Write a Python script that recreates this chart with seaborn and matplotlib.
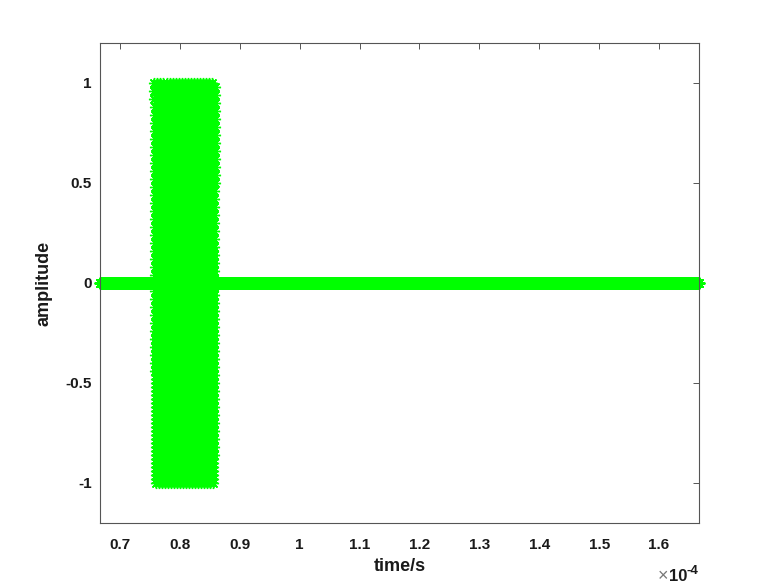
import matplotlib

matplotlib.use("Agg")
import matplotlib.pyplot as plt
import numpy as np
import pandas as pd
import seaborn as sns
from matplotlib.ticker import FixedLocator, FuncFormatter

# record window and pulse window, in seconds
t_first = 0.6667e-4
t_last = 1.6667e-4
pulse_start = 0.7575e-4
pulse_end = 0.8585e-4
sample_step = 5e-9

# amplitude levels of one sweep inside the pulse
sweep_down = [1.00, 0.96, 0.92, 0.88, 0.84, 0.80, 0.76, 0.72, 0.68, 0.64, 0.60, 0.56, 0.52,
              0.48, 0.44, 0.40, 0.36, 0.32, 0.28, 0.24, 0.20, 0.16, 0.12, 0.08, 0.04, 0.00,
              -0.04, -0.08, -0.12, -0.16, -0.20, -0.24, -0.28, -0.32, -0.36, -0.40, -0.44,
              -0.48, -0.52, -0.56, -0.60, -0.64, -0.68, -0.72, -0.76, -0.80, -0.84, -0.88,
              -0.92, -0.96, -1.00]
sweep_up = [-0.98, -0.94, -0.90, -0.86, -0.82, -0.78, -0.74, -0.70, -0.66, -0.62, -0.58,
            -0.54, -0.50, -0.46, -0.42, -0.38, -0.34, -0.30, -0.26, -0.22, -0.18, -0.14,
            -0.10, -0.06, -0.02, 0.02, 0.06, 0.10, 0.14, 0.18, 0.22, 0.26, 0.30, 0.34, 0.38,
            0.42, 0.46, 0.50, 0.54, 0.58, 0.62, 0.66, 0.70, 0.74, 0.78, 0.82, 0.86, 0.90,
            0.94, 0.98]
idle_level = 0.0

x_ticks = [0.7e-4, 0.8e-4, 0.9e-4, 1.0e-4, 1.1e-4, 1.2e-4, 1.3e-4, 1.4e-4, 1.5e-4, 1.6e-4]
y_ticks = [-1, -0.5, 0, 0.5, 1]
x_scale = 1e-4

# build the sampled record
t = np.arange(t_first, t_last + sample_step / 2, sample_step)
amp = np.full(t.size, idle_level)
in_pulse = (t >= pulse_start) & (t <= pulse_end)
amp[in_pulse] = np.resize(np.array(sweep_down + sweep_up), in_pulse.sum())
signal = pd.DataFrame({"time": t, "amplitude": amp})

sns.set_theme(style="white")
plt.rcParams["font.family"] = ["Liberation Sans", "DejaVu Sans"]

fig = plt.figure(figsize=(7.72, 5.88), dpi=100)
ax = fig.add_axes([100 / 772, 65 / 588, 599 / 772, 480 / 588])

sns.lineplot(
    data=signal, x="time", y="amplitude", ax=ax,
    estimator=None, sort=False, linestyle="none",
    marker=(8, 2, 0), markersize=8, color="#00ff00",
    markeredgecolor="#00ff00", markeredgewidth=1.0, clip_on=False,
)

ax.set_xlim(t_first, t_last)
ax.set_ylim(-1.2, 1.2)
ax.xaxis.set_major_locator(FixedLocator(x_ticks))
ax.yaxis.set_major_locator(FixedLocator(y_ticks))
ax.xaxis.set_major_formatter(FuncFormatter(lambda v, _: f"{v / x_scale:g}"))
ax.yaxis.set_major_formatter(FuncFormatter(lambda v, _: f"{v:g}"))

axis_color = "#555555"
for spine in ax.spines.values():
    spine.set_visible(True)
    spine.set_color(axis_color)
    spine.set_linewidth(0.8)
ax.tick_params(axis="both", direction="in", length=4.5, width=0.7, color=axis_color,
               labelsize=11, labelcolor="#1a1a1a", top=True, right=True)
ax.tick_params(axis="x", pad=10.5)
ax.tick_params(axis="y", pad=6)
for lbl in ax.get_xticklabels() + ax.get_yticklabels():
    lbl.set_fontweight("bold")

ax.set_xlabel("time/s", fontsize=13, fontweight="bold", color="#1a1a1a")
ax.set_ylabel("amplitude", fontsize=13, fontweight="bold", color="#1a1a1a")
ax.xaxis.set_label_coords(0.5, -0.0896)
ax.xaxis.label.set_verticalalignment("center")
ax.yaxis.set_label_coords(-0.0927, 0.5)
ax.yaxis.label.set_verticalalignment("center")

# MATLAB-style exponent under the right end of the x axis
fig.text(698 / 772, (588 - 574) / 588, "-4", ha="right", va="baseline",
         fontsize=9.5, fontweight="bold", color="#1a1a1a")
fig.text(687 / 772, (588 - 581) / 588, "10", ha="right", va="baseline",
         fontsize=12, fontweight="bold", color="#1a1a1a")
fig.text(668 / 772, (588 - 581) / 588, "\u00d7", ha="right", va="baseline",
         fontsize=13, color="#777777")

fig.savefig("out.png", dpi=100)
